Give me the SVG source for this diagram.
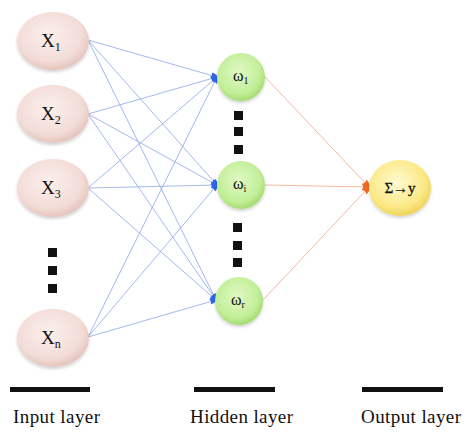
<svg xmlns="http://www.w3.org/2000/svg" width="474" height="440" viewBox="0 0 474 440">
<defs>
<style>
.lbl{font-family:"Liberation Serif","DejaVu Serif","Times New Roman",serif;fill:#111;}
.x{font-size:19px;}
.w{font-size:16px;}
.sub{font-size:12px;}
.wsub{font-size:10px;}
.cap{font-size:19px;}
.blue{stroke:#8aa6ea;stroke-width:0.8;fill:none;marker-end:url(#mb);}
.org{stroke:#f4b096;stroke-width:0.9;fill:none;marker-end:url(#mo);}
.dot{fill:#111;}
.bar{fill:#111;}
</style>
<radialGradient id="gp" cx="45%" cy="40%" r="60%">
<stop offset="0" stop-color="#fbefec"/>
<stop offset="0.75" stop-color="#f3dcd7"/>
<stop offset="1" stop-color="#e6c4be"/>
</radialGradient>
<radialGradient id="gg" cx="45%" cy="40%" r="60%">
<stop offset="0" stop-color="#dff9c4"/>
<stop offset="0.75" stop-color="#c2ee98"/>
<stop offset="1" stop-color="#a5dc72"/>
</radialGradient>
<radialGradient id="gy" cx="45%" cy="40%" r="60%">
<stop offset="0" stop-color="#fffad0"/>
<stop offset="0.75" stop-color="#fbe986"/>
<stop offset="1" stop-color="#eed45a"/>
</radialGradient>
<filter id="sh" x="-20%" y="-20%" width="140%" height="150%">
<feDropShadow dx="0" dy="2" stdDeviation="1.5" flood-color="#000" flood-opacity="0.18"/>
</filter>
<marker id="mb" viewBox="0 0 10 10" refX="9" refY="5" markerWidth="7" markerHeight="8" markerUnits="userSpaceOnUse" orient="auto">
<path d="M0,1 Q7,1 10,5 Q7,9 0,9 Q3,5 0,1Z" fill="#2f64e8"/>
</marker>
<marker id="mo" viewBox="0 0 10 10" refX="9" refY="5" markerWidth="8" markerHeight="9" markerUnits="userSpaceOnUse" orient="auto">
<path d="M0,1 Q7,1 10,5 Q7,9 0,9 Q3,5 0,1Z" fill="#f06a2a"/>
</marker>
</defs>
<rect width="474" height="440" fill="#fff"/>
<g id="connectors">
<path class="blue" d="M88,40 L217,77"/>
<path class="blue" d="M88,40 L217,185"/>
<path class="blue" d="M88,40 L216,300"/>
<path class="blue" d="M88,114 L217,77"/>
<path class="blue" d="M88,114 L217,185"/>
<path class="blue" d="M88,114 L216,300"/>
<path class="blue" d="M88,188 L217,77"/>
<path class="blue" d="M88,188 L217,185"/>
<path class="blue" d="M88,188 L216,300"/>
<path class="blue" d="M88,337 L217,77"/>
<path class="blue" d="M88,337 L217,185"/>
<path class="blue" d="M88,337 L216,300"/>
<path class="org" d="M265,77 L369,187"/>
<path class="org" d="M265,185 L369,187"/>
<path class="org" d="M263,300 L369,187"/>
</g>
<g id="x1"><ellipse cx="53" cy="41" rx="36" ry="29" fill="url(#gp)" filter="url(#sh)"/><text class="lbl x" x="41" y="47">X<tspan class="sub" dy="4">1</tspan></text></g>
<g id="x2"><ellipse cx="53" cy="114" rx="36" ry="29" fill="url(#gp)" filter="url(#sh)"/><text class="lbl x" x="41" y="120">X<tspan class="sub" dy="4">2</tspan></text></g>
<g id="x3"><ellipse cx="53" cy="188" rx="36" ry="29" fill="url(#gp)" filter="url(#sh)"/><text class="lbl x" x="41" y="194">X<tspan class="sub" dy="4">3</tspan></text></g>
<g id="xdots"><rect class="dot" x="48" y="248" width="9" height="9"/><rect class="dot" x="48" y="266" width="9" height="9"/><rect class="dot" x="48" y="284" width="9" height="9"/></g>
<g id="xn"><ellipse cx="53" cy="338" rx="36" ry="29" fill="url(#gp)" filter="url(#sh)"/><text class="lbl x" x="41" y="344">X<tspan class="sub" dy="4">n</tspan></text></g>
<g id="w1"><circle cx="241" cy="77" r="24" fill="url(#gg)" filter="url(#sh)"/><text class="lbl w" x="233" y="81">ω<tspan class="wsub" dy="3">1</tspan></text></g>
<g id="wdots1"><rect class="dot" x="234" y="111" width="9" height="9"/><rect class="dot" x="234" y="127" width="9" height="9"/><rect class="dot" x="234" y="145" width="9" height="9"/></g>
<g id="wi"><circle cx="241" cy="185" r="24" fill="url(#gg)" filter="url(#sh)"/><text class="lbl w" x="233" y="189">ω<tspan class="wsub" dy="3">i</tspan></text></g>
<g id="wdots2"><rect class="dot" x="233" y="223" width="9" height="9"/><rect class="dot" x="233" y="241" width="9" height="9"/><rect class="dot" x="233" y="258" width="9" height="9"/></g>
<g id="wr"><circle cx="239" cy="301" r="24" fill="url(#gg)" filter="url(#sh)"/><text class="lbl w" x="231" y="305">ω<tspan class="wsub" dy="3">r</tspan></text></g>
<g id="out"><ellipse cx="400" cy="188" rx="31" ry="28" fill="url(#gy)" filter="url(#sh)"/><text class="lbl" x="400" y="193" font-size="15" text-anchor="middle" stroke="#111" stroke-width="0.3">Σ→y</text></g>
<g id="legend">
<rect class="bar" x="10" y="387" width="80" height="5"/>
<rect class="bar" x="194" y="387" width="81" height="5"/>
<rect class="bar" x="362" y="387" width="81" height="5"/>
<text class="lbl cap" x="13" y="423" textLength="87" lengthAdjust="spacing">Input layer</text>
<text class="lbl cap" x="190" y="423" textLength="103" lengthAdjust="spacing">Hidden layer</text>
<text class="lbl cap" x="361" y="423" textLength="100" lengthAdjust="spacing">Output layer</text>
</g>
</svg>
